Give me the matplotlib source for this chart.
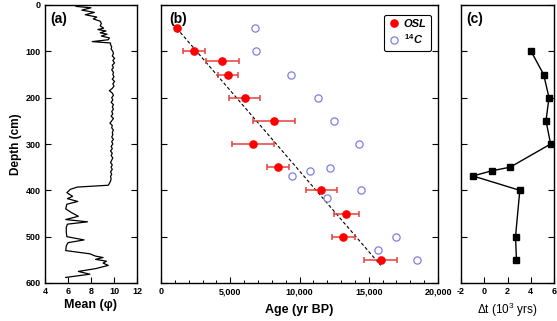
import matplotlib
matplotlib.use("Agg")
import matplotlib.pyplot as plt
import numpy as np
from matplotlib.ticker import MultipleLocator, FuncFormatter

plt.rcParams['font.family'] = ['Liberation Sans', 'DejaVu Sans']
plt.rcParams['axes.unicode_minus'] = False
plt.rcParams['mathtext.fontset'] = 'custom'
plt.rcParams['mathtext.rm'] = 'Liberation Sans'
plt.rcParams['mathtext.bf'] = 'Liberation Sans:bold'
plt.rcParams['mathtext.it'] = 'Liberation Sans:italic'

# ---- Panel (a): grain size mean profile ----
grain_depth = [3, 6, 11, 16, 21, 26, 30, 35, 40, 45, 50, 53, 56, 60, 63, 67, 71, 75, 79, 82, 86, 90, 95, 100,
               105, 110, 115, 120, 125, 130, 135, 140, 145, 150, 155, 160, 165, 170, 175, 180, 185, 190, 195, 200,
               205, 210, 215, 220, 225, 230, 235, 240, 245, 250, 255, 260, 265, 270, 275, 280, 285, 290, 295, 300,
               305, 310, 315, 320, 325, 330, 335, 340, 345, 350, 355, 360, 365, 370, 375, 380, 385,
               389, 393, 398, 405, 413, 418, 424, 430, 440, 448, 456, 463, 468, 473, 480, 490, 500, 507, 513,
               520, 530, 537, 542, 545, 549, 553, 557, 562, 569, 575, 581, 588]
grain_mean = [6.7, 8.0, 7.2, 8.3, 7.5, 8.5, 8.2, 8.8, 8.9, 8.8, 9.1, 8.6, 9.3, 8.8, 9.4, 8.9, 9.6, 9.5, 8.1, 9.7, 9.7, 9.8, 9.75, 9.9,
              9.95, 9.85, 10.05, 9.9, 10.05, 9.85, 9.95, 9.8, 9.95, 9.9, 10.0, 9.85, 10.05, 9.9, 10.0, 9.85, 9.6, 9.85, 9.95, 9.8,
              9.9, 9.75, 9.95, 9.85, 9.95, 9.8, 9.9, 9.75, 9.95, 9.8, 9.65, 9.85, 9.8, 9.95, 9.85, 9.9, 9.8, 9.95, 9.8, 9.9,
              9.75, 9.85, 9.7, 9.85, 9.75, 9.9, 9.8, 9.7, 9.85, 9.75, 9.85, 9.7, 9.8, 9.7, 9.75, 9.7, 9.6,
              9.5, 6.8, 6.2, 5.9, 6.4, 5.95, 6.85, 5.9, 5.8, 6.3, 6.9, 5.8, 7.7, 5.95, 5.85, 5.85, 5.9, 7.4, 6.0,
              5.85, 5.8, 7.9, 8.4, 9.05, 8.4, 9.35, 9.05, 9.5, 8.4, 6.9, 7.9, 5.8]

# ---- Panel (b): ages ----
osl_depth = [50, 100, 120, 150, 200, 250, 300, 350, 400, 450, 500, 550]
osl_age = [1130, 2410, 4400, 4810, 6040, 8130, 6640, 8450, 11550, 13360, 13170, 15860]
osl_err_low = [1130, 1610, 3220, 4140, 4930, 6640, 5100, 7630, 10450, 12470, 12320, 14660]
osl_err_high = [1130, 3180, 5630, 5540, 7150, 9650, 8160, 9240, 12690, 14270, 13980, 17060]

c14_depth = [50, 100, 150, 200, 250, 300, 352, 358, 369, 400, 416, 500, 529, 550]
c14_age = [6800, 6860, 9410, 11340, 12470, 14300, 12190, 10740, 9490, 14440, 12010, 16970, 15690, 18510]

trend_age = [1130, 15860]
trend_depth = [50, 562]

# ---- Panel (c): age difference ----
dt_depth = [100, 150, 200, 250, 300, 350, 358, 369, 400, 500, 550]
dt_value = [4.03, 5.11, 5.57, 5.31, 5.71, 2.23, 0.63, -0.97, 3.06, 2.69, 2.77]

fig = plt.figure(figsize=(5.57, 3.21), dpi=100)
W, H = 557, 321

def box(l, r, t, b):
    return [l / W, 1 - b / H, (r - l) / W, (b - t) / H]

axa = fig.add_axes(box(45, 137, 5, 283))
axb = fig.add_axes(box(161, 438, 5, 283))
axc = fig.add_axes(box(461, 554, 5, 283))

def boldticks(ax):
    for lab in ax.get_xticklabels() + ax.get_yticklabels():
        lab.set_fontweight('bold')

for ax in (axa, axb, axc):
    ax.set_ylim(600, 0)
    ax.yaxis.set_major_locator(MultipleLocator(100))
    ax.tick_params(direction='in', left=True, right=True, top=False, bottom=True,
                   length=4, width=0.8, labelsize=6.5, pad=3)
    for s in ax.spines.values():
        s.set_linewidth(1.0)

# (a)
axa.plot(grain_mean, grain_depth, color='black', lw=0.9)
axa.set_xlim(4, 12)
axa.xaxis.set_major_locator(MultipleLocator(2))
axa.set_ylabel('Depth (cm)', fontsize=8.5, fontweight='bold', labelpad=3)
axa.set_xlabel('Mean (φ)', fontsize=9, fontweight='bold', labelpad=2)
axa.text(0.06, 0.975, '(a)', transform=axa.transAxes, fontsize=10, fontweight='bold', va='top', ha='left')
boldticks(axa)

# (b)
osl_age_a = np.array(osl_age)
xerr = [osl_age_a - np.array(osl_err_low), np.array(osl_err_high) - osl_age_a]
axb.plot(trend_age, trend_depth, color='black', lw=0.8, ls=(0, (3, 2)))
axb.errorbar(osl_age, osl_depth, xerr=xerr, fmt='none', ecolor='#e8403c', elinewidth=1.1,
             capsize=2.5, capthick=1.1)
h1, = axb.plot(osl_age, osl_depth, 'o', color='#ff0000', ms=5.2, mec='#ff0000', ls='none', label='OSL')
h2, = axb.plot(c14_age, c14_depth, 'o', mfc='none', mec='#7f7fe0', mew=0.9, ms=5.2, ls='none',
               label=r'$^{\mathbf{14}}$C')
axb.set_xlim(0, 20000)
axb.xaxis.set_major_locator(MultipleLocator(5000))
axb.xaxis.set_minor_locator(MultipleLocator(1000))
axb.tick_params(axis='x', which='minor', direction='in', length=2.5, width=0.7, bottom=True, top=False)
axb.xaxis.set_major_formatter(FuncFormatter(lambda v, p: f'{int(v):,}'))
axb.set_yticklabels([])
axb.set_xlabel('Age (yr BP)', fontsize=9, fontweight='bold', labelpad=6)
axb.text(0.03, 0.975, '(b)', transform=axb.transAxes, fontsize=10, fontweight='bold', va='top', ha='left')
leg = axb.legend(handles=[h1, h2], loc='upper right', bbox_to_anchor=(0.995, 0.985), frameon=True,
                 fancybox=True, edgecolor='black', framealpha=1, handletextpad=0.4,
                 borderpad=0.4, labelspacing=0.3, handlelength=1.0,
                 prop=dict(size=8, weight='bold', style='italic'))
leg.get_frame().set_linewidth(0.8)
boldticks(axb)

# (c)
axc.plot(dt_value, dt_depth, color='black', lw=1.0, marker='s', ms=3.8, mfc='black', mec='black')
axc.set_xlim(-2, 6)
axc.xaxis.set_major_locator(MultipleLocator(2))
axc.set_yticklabels([])
axc.set_xlabel(r'Δt (10$^3$ yrs)', fontsize=8.5, labelpad=3)
axc.text(0.06, 0.975, '(c)', transform=axc.transAxes, fontsize=10, fontweight='bold', va='top', ha='left')
boldticks(axc)

fig.savefig('out.png', dpi=100)
